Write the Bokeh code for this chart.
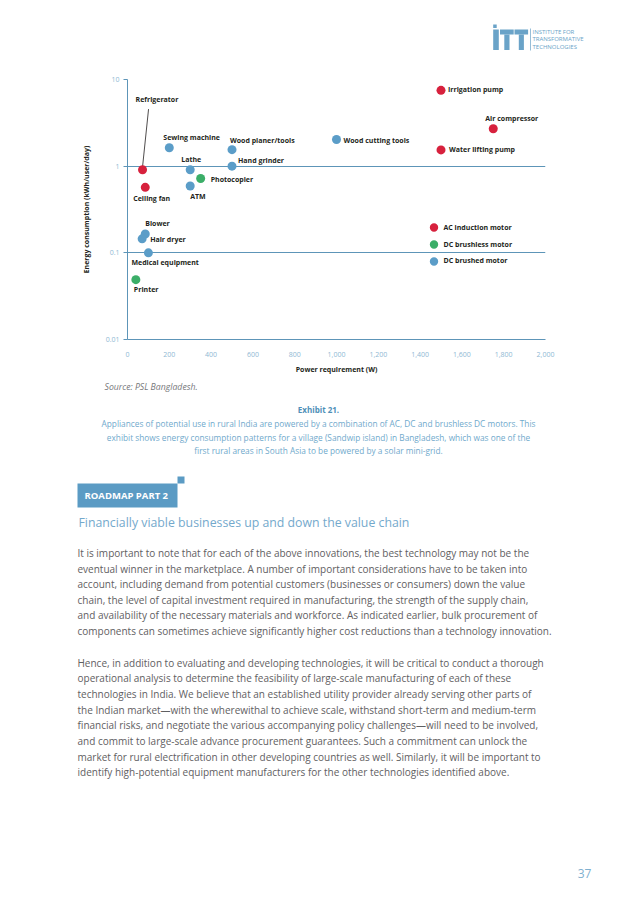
from bokeh.plotting import figure
from bokeh.layouts import column
from bokeh.models import (ColumnDataSource, Legend, LegendItem, FixedTicker,
                          NumeralTickFormatter, Range1d)
from bokeh.core.properties import value
from bokeh.embed import file_html
from bokeh.resources import INLINE

# ---------------- data ----------------
appliances = ["Refrigerator", "Ceiling fan", "Sewing machine", "Lathe", "ATM", "Photocopier",
              "Wood planer/tools", "Hand grinder", "Wood cutting tools", "Irrigation pump",
              "Air compressor", "Water lifting pump", "Blower", "Hair dryer",
              "Medical equipment", "Printer"]
power_w = [72, 85, 200, 300, 300, 350, 500, 500, 1000, 1500, 1750, 1500, 85, 70, 100, 40]
energy_kwh = [0.91, 0.57, 1.63, 0.91, 0.59, 0.72, 1.55, 1.0, 2.03, 7.5, 2.7, 1.54,
              0.165, 0.145, 0.1, 0.049]
motor = ["AC induction motor", "AC induction motor", "DC brushed motor", "DC brushed motor",
         "DC brushed motor", "DC brushless motor", "DC brushed motor", "DC brushed motor",
         "DC brushed motor", "AC induction motor", "AC induction motor", "AC induction motor",
         "DC brushed motor", "DC brushed motor", "DC brushed motor", "DC brushless motor"]
motor_types = ["AC induction motor", "DC brushless motor", "DC brushed motor"]

x_ticks = [0, 200, 400, 600, 800, 1000, 1200, 1400, 1600, 1800, 2000]
y_ticks = [0.01, 0.1, 1, 10]
y_tick_labels = ["0.01", "0.1", "1", "10"]

x_label = "Power requirement (W)"
y_label = "Energy consumption (kWh/user/day)"
source_note = "Source: PSL Bangladesh."
exhibit_title = "Exhibit 21."
caption_lines = [
    "Appliances of potential use in rural India are powered by a combination of AC, DC and brushless DC motors. This",
    "exhibit shows energy consumption patterns for a village (Sandwip island) in Bangladesh, which was one of the",
    "first rural areas in South Asia to be powered by a solar mini-grid.",
]
section_tag = "ROADMAP PART 2"
heading = "Financially viable businesses up and down the value chain"
para1 = [
    "It is important to note that for each of the above innovations, the best technology may not be the",
    "eventual winner in the marketplace. A number of important considerations have to be taken into",
    "account, including demand from potential customers (businesses or consumers) down the value",
    "chain, the level of capital investment required in manufacturing, the strength of the supply chain,",
    "and availability of the necessary materials and workforce. As indicated earlier, bulk procurement of",
    "components can sometimes achieve significantly higher cost reductions than a technology innovation.",
]
para2 = [
    "Hence, in addition to evaluating and developing technologies, it will be critical to conduct a thorough",
    "operational analysis to determine the feasibility of large-scale manufacturing of each of these",
    "technologies in India. We believe that an established utility provider already serving other parts of",
    "the Indian market\u2014with the wherewithal to achieve scale, withstand short-term and medium-term",
    "financial risks, and negotiate the various accompanying policy challenges\u2014will need to be involved,",
    "and commit to large-scale advance procurement guarantees. Such a commitment can unlock the",
    "market for rural electrification in other developing countries as well. Similarly, it will be important to",
    "identify high-potential equipment manufacturers for the other technologies identified above.",
]
logo_lines = ["INSTITUTE FOR", "TRANSFORMATIVE", "TECHNOLOGIES"]
page_number = "37"

# ---------------- styles ----------------
motor_colors = {"AC induction motor": "#d7213d", "DC brushless motor": "#3bae68",
                "DC brushed motor": "#5b9dc8"}
label_offsets = {  # (dx, dy) in screen pixels, y down
    "Refrigerator": (-7, -70), "Ceiling fan": (-12, 11), "Sewing machine": (-6, -10),
    "Lathe": (-9, -10), "ATM": (0, 10), "Photocopier": (10, 1),
    "Wood planer/tools": (-2, -9), "Hand grinder": (6, -6), "Wood cutting tools": (7, 1),
    "Irrigation pump": (7, -1), "Air compressor": (-8, -10), "Water lifting pump": (8, 0),
    "Blower": (0, -10), "Hair dryer": (8, 1), "Medical equipment": (-17, 10),
    "Printer": (-2, 10),
}
GRID = "#5d95b8"
TICK = "#8fb8d3"
DARK = "#231f20"
BODY = "#5f6062"
LOGO = "#6aa3c8"
FONT = "Open Sans"
# logo shapes (page pixels): dot, I stem, T1 bar, T1 stem, T2 bar, T2 stem
logo_boxes = [(492.7, 496.2, 24.0, 27.4), (492.7, 498.3, 29.0, 49.5),
              (499.5, 513.2, 29.0, 34.0), (503.8, 509.0, 34.0, 49.5),
              (514.0, 527.6, 29.0, 34.0), (518.3, 523.4, 34.0, 49.5)]

W = 630
HEAD_H = 70          # page rows 0..70
CHART_TOP = 70
FRAME_T, FRAME_B = 79, 345
FRAME_L, FRAME_R = 127, 545
CHART_BOTTOM = 376
BODY_H = 895 - CHART_BOTTOM


def blank(h, y0, y1):
    f = figure(width=W, height=h, x_range=Range1d(0, W), y_range=Range1d(y1, y0),
               output_backend="svg", toolbar_location=None,
               x_axis_location=None, y_axis_location=None, min_border=0,
               frame_align=False)
    f.outline_line_color = None
    f.grid.visible = False
    f.background_fill_color = "white"
    f.border_fill_color = "white"
    return f


def txt(f, x, y, s, size, color, align="left", style="normal", font=FONT):
    f.text(x=[x], y=[y], text=[s], text_font=value(font), text_font_size=size,
           text_color=color, text_align=align, text_baseline="middle",
           text_font_style=style)


# ---------------- header (logo) ----------------
head = blank(HEAD_H, 0, HEAD_H)
head.quad(left=[b[0] for b in logo_boxes], right=[b[1] for b in logo_boxes],
          top=[b[2] for b in logo_boxes], bottom=[b[3] for b in logo_boxes],
          fill_color=LOGO, line_color=None)
head.quad(left=[529.6], right=[530.3], top=[28], bottom=[50], fill_color=LOGO, line_color=None)
for k, t in enumerate(logo_lines):
    txt(head, 532, 31 + 7.8 * k, t, "6px", LOGO)

# ---------------- chart ----------------
p = figure(width=W, height=CHART_BOTTOM - CHART_TOP, x_range=Range1d(0, 2000),
           y_range=Range1d(0.01, 10), y_axis_type="log", output_backend="svg",
           toolbar_location=None, min_border_left=FRAME_L, min_border_right=W - FRAME_R,
           min_border_top=FRAME_T - CHART_TOP, min_border_bottom=CHART_BOTTOM - FRAME_B,
           frame_align=False)
p.outline_line_color = None
p.background_fill_color = "white"
p.border_fill_color = "white"
p.xgrid.visible = False
p.ygrid.ticker = FixedTicker(ticks=[0.1, 1, 10])
p.ygrid.grid_line_color = GRID
p.ygrid.grid_line_width = 1

for ax in (p.xaxis[0], p.yaxis[0]):
    ax.axis_line_color = GRID
    ax.axis_line_width = 1
    ax.major_label_text_color = TICK
    ax.major_label_text_font = FONT
    ax.major_label_text_font_size = "7px"
    ax.minor_tick_line_color = None
    ax.axis_label_text_font = FONT
    ax.axis_label_text_font_size = "7px"
    ax.axis_label_text_font_style = "bold"
    ax.axis_label_text_color = DARK

p.xaxis.ticker = FixedTicker(ticks=x_ticks)
p.xaxis.formatter = NumeralTickFormatter(format="0,0")
p.xaxis.major_tick_line_color = None
p.xaxis.major_label_standoff = 6
p.xaxis.axis_label = x_label
p.xaxis.axis_label_standoff = 5

p.yaxis.ticker = FixedTicker(ticks=y_ticks)
p.yaxis.major_label_overrides = {t: s for t, s in zip(y_ticks, y_tick_labels)}
p.yaxis.major_tick_line_color = GRID
p.yaxis.major_tick_out = 4
p.yaxis.major_tick_in = 0
p.yaxis.major_label_standoff = 4
p.yaxis.axis_label = y_label
p.yaxis.axis_label_standoff = 12

# leader line for the refrigerator label (pixel offsets converted through the scales)
px_per_w = (FRAME_R - FRAME_L) / 2000.0
px_per_dec = (FRAME_B - FRAME_T) / 3.0
i_ref = appliances.index("Refrigerator")
rx, ry = power_w[i_ref], energy_kwh[i_ref]
p.line(x=[rx, rx + 6 / px_per_w], y=[ry * 10 ** (3 / px_per_dec), ry * 10 ** (62 / px_per_dec)],
       line_color=DARK, line_width=0.8)

renderers = []
for m in motor_types:
    idx = [i for i, mm in enumerate(motor) if mm == m]
    src = ColumnDataSource(dict(x=[power_w[i] for i in idx], y=[energy_kwh[i] for i in idx]))
    r = p.scatter("x", "y", source=src, size=9, fill_color=motor_colors[m], line_color=None)
    renderers.append(r)

lab_src = ColumnDataSource(dict(
    x=power_w, y=energy_kwh, text=appliances,
    dx=[label_offsets[a][0] for a in appliances],
    dy=[label_offsets[a][1] for a in appliances]))
p.text(x="x", y="y", text="text", x_offset="dx", y_offset="dy", source=lab_src,
       text_font=value(FONT), text_font_size="7px", text_color=DARK, text_font_style="bold",
       text_align="left", text_baseline="middle")

legend_cy = [233.3, 250, 266.7]
for m, r, cy in zip(motor_types, renderers, legend_cy):
    lg = Legend(items=[LegendItem(label=m, renderers=[r])],
                location=(433 - 10.5 - FRAME_L, FRAME_B - (cy + 11)),
                glyph_width=21, glyph_height=22, label_height=22, padding=0, margin=0,
                spacing=0, label_standoff=0, background_fill_alpha=0, border_line_color=None,
                label_text_font=FONT, label_text_font_size="7px", label_text_color=DARK,
                label_text_font_style="bold")
    p.add_layout(lg)

# ---------------- body text ----------------
body = blank(BODY_H, CHART_BOTTOM, 895)
txt(body, 104, 386, source_note, "8.7px", "#77787b", style="italic")
txt(body, 318, 409, exhibit_title, "8px", "#4f8fb8", align="center", style="bold")
for k, t in enumerate(caption_lines):
    txt(body, 318, 423 + 13.7 * k, t, "8.3px", "#6fa9cc", align="center")

body.quad(left=[77], right=[177], top=[483], bottom=[507], fill_color="#5b9bc4", line_color=None)
body.quad(left=[177], right=[184], top=[476], bottom=[483], fill_color="#5b9bc4", line_color=None)
txt(body, 84, 495, section_tag, "9.5px", "white", style="bold")
txt(body, 78, 522, heading, "12.3px", "#74a9cc")

for k, t in enumerate(para1):
    txt(body, 77, 552.5 + 15.5 * k, t, "10px", BODY)
for k, t in enumerate(para2):
    txt(body, 77, 662 + 15.7 * k, t, "10px", BODY)

txt(body, 584, 873, page_number, "12px", "#7fb0cf", align="center")

layout = column(head, p, body, spacing=0)
open("out.html", "w").write(file_html(layout, INLINE))
